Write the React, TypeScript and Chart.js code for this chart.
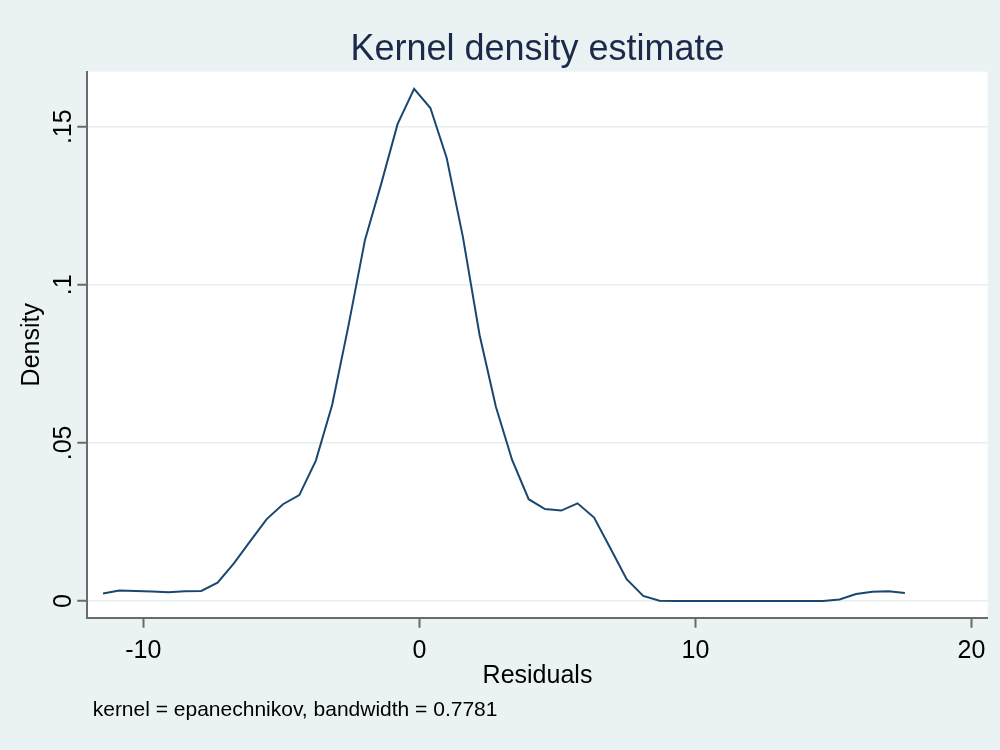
import React, { useEffect, useRef } from "react";
import { Chart, registerables } from "chart.js";

Chart.register(...registerables);

// Evaluation points (Residuals) and kernel density estimates
const residualGrid = [
  -11.46, -10.87, -10.28, -9.68, -9.09, -8.5, -7.9, -7.31, -6.72, -6.12,
  -5.53, -4.94, -4.35, -3.75, -3.16, -2.57, -1.97, -1.38, -0.79, -0.19,
  0.4, 0.99, 1.58, 2.18, 2.77, 3.36, 3.96, 4.55, 5.14, 5.73,
  6.33, 6.92, 7.51, 8.11, 8.7, 9.29, 9.89, 10.48, 11.07, 11.66,
  12.26, 12.85, 13.44, 14.04, 14.63, 15.22, 15.82, 16.41, 17.0, 17.59,
];
const densityValues = [
  0.0024, 0.0033, 0.0032, 0.003, 0.0028, 0.0031, 0.0032, 0.0058, 0.0119, 0.019,
  0.0259, 0.0306, 0.0335, 0.0444, 0.062, 0.087, 0.1142, 0.132, 0.1508, 0.162,
  0.1559, 0.1401, 0.115, 0.0842, 0.0615, 0.0446, 0.0322, 0.0291, 0.0286, 0.0309,
  0.0264, 0.0167, 0.0069, 0.0016, 0.0001, 0, 0, 0, 0, 0,
  0, 0, 0, 0, 0, 0.0005, 0.0022, 0.0029, 0.0031, 0.0025,
];

const xTickValues = [-10, 0, 10, 20];
const xTickLabels = ["-10", "0", "10", "20"];
const yTickValues = [0, 0.05, 0.1, 0.15];
const yTickLabels = ["0", ".05", ".1", ".15"];

const titleText = "Kernel density estimate";
const xTitle = "Residuals";
const yTitle = "Density";
const noteText = "kernel = epanechnikov, bandwidth = 0.7781";

const FONT = "'Liberation Sans', Arial, Helvetica, sans-serif";
const PAGE_BG = "#eaf2f3";
const AXIS = "#6b6b6b";

export default function App() {
  const ref = useRef<HTMLCanvasElement | null>(null);

  useEffect(() => {
    if (!ref.current) return;
    const plotBg = {
      id: "plotBg",
      beforeDraw(chart: any) {
        const { ctx, chartArea, width, height } = chart;
        ctx.save();
        ctx.fillStyle = PAGE_BG;
        ctx.fillRect(0, 0, width, height);
        ctx.fillStyle = "#ffffff";
        ctx.fillRect(chartArea.left, chartArea.top, chartArea.right - chartArea.left, chartArea.bottom - chartArea.top);
        ctx.restore();
      },
    };
    const note = {
      id: "note",
      afterDraw(chart: any) {
        const { ctx } = chart;
        ctx.save();
        ctx.font = `21px ${FONT}`;
        ctx.fillStyle = "#000000";
        ctx.textBaseline = "alphabetic";
        ctx.textAlign = "left";
        ctx.fillText(noteText, 92.7, 715.5);
        ctx.restore();
      },
    };

    const chart = new Chart(ref.current, {
      type: "line",
      data: {
        datasets: [
          {
            data: residualGrid.map((x, i) => ({ x, y: densityValues[i] })),
            borderColor: "#1a476f",
            borderWidth: 2,
            pointRadius: 0,
            tension: 0,
            fill: false,
          },
        ],
      },
      plugins: [plotBg, note],
      options: {
        animation: false,
        responsive: false,
        devicePixelRatio: 1,
        layout: { padding: { top: 0, left: 0, right: 12.3, bottom: 59 } },
        plugins: {
          legend: { display: false },
          tooltip: { enabled: false },
          title: {
            display: true,
            text: titleText,
            fullSize: false,
            color: "#1c2a4a",
            font: { family: FONT, size: 36, weight: "normal", lineHeight: 1.2 },
            padding: { top: 28.5, bottom: 0 },
          },
        },
        scales: {
          x: {
            type: "linear",
            min: -12.03,
            max: 20.59,
            afterBuildTicks: (scale: any) => {
              scale.ticks = xTickValues.map((v) => ({ value: v }));
            },
            afterFit: (scale: any) => {
              scale.height = 73.3;
            },
            ticks: {
              autoSkip: false,
              includeBounds: false,
              maxRotation: 0,
              minRotation: 0,
              padding: 8.5,
              color: "#000000",
              font: { family: FONT, size: 25 },
              callback: (_v: any, i: number) => xTickLabels[i],
            },
            grid: {
              drawOnChartArea: false,
              tickLength: 10,
              tickColor: AXIS,
              tickWidth: 2,
            },
            border: { display: true, color: AXIS, width: 2 },
            title: {
              display: true,
              text: xTitle,
              color: "#000000",
              font: { family: FONT, size: 25, lineHeight: 1.2 },
              padding: { top: 0, bottom: 0 },
            },
          },
          y: {
            type: "linear",
            min: -0.00528,
            max: 0.1674,
            afterBuildTicks: (scale: any) => {
              scale.ticks = yTickValues.map((v) => ({ value: v }));
            },
            afterFit: (scale: any) => {
              scale.width = 87.3;
            },
            ticks: {
              autoSkip: false,
              includeBounds: false,
              minRotation: 90,
              maxRotation: 90,
              crossAlign: "center",
              padding: -4,
              color: "#000000",
              font: { family: FONT, size: 25 },
              callback: (_v: any, i: number) => yTickLabels[i],
            },
            grid: {
              color: "#e6eef0",
              lineWidth: 1.5,
              tickLength: 10,
              tickColor: AXIS,
              tickWidth: 2,
            },
            border: { display: true, color: AXIS, width: 2 },
            title: {
              display: true,
              text: yTitle,
              color: "#000000",
              font: { family: FONT, size: 25, lineHeight: 1.2 },
              padding: { top: 17, bottom: 0 },
            },
          },
        },
      },
    } as any);
    return () => chart.destroy();
  }, []);

  return (
    <div style={{ position: "fixed", left: 0, top: 0, width: 1000, height: 750, background: PAGE_BG }}>
      <canvas ref={ref} width={1000} height={750} style={{ display: "block", width: 1000, height: 750 }} />
    </div>
  );
}
